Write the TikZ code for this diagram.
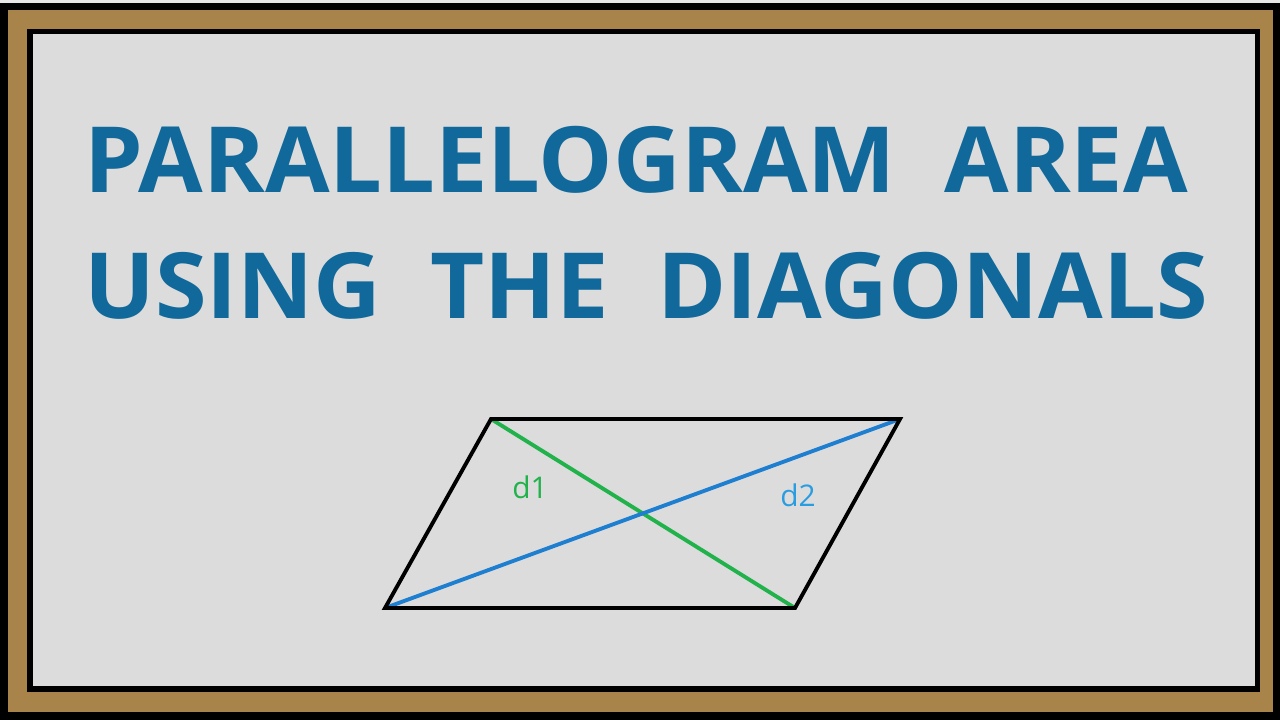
\documentclass[tikz,border=0pt]{standalone}
\usepackage{fontspec}
\setmainfont{Open Sans}
\usepackage{tikz}
\usetikzlibrary{calc}

\definecolor{framebrown}{HTML}{A8844A}
\definecolor{boardgray}{HTML}{DCDCDC}
\definecolor{titleblue}{HTML}{10699A}
\definecolor{diagone}{HTML}{22B24C}
\definecolor{diagtwo}{HTML}{1E7ED0}
\definecolor{labeltwo}{HTML}{2A9DE0}

\begin{document}
\begin{tikzpicture}[
    x=0.02cm, y=-0.02cm,
    title/.style={
      anchor=base west,
      inner sep=0pt,
      xscale=1.025,
      text=titleblue,
      font=\fontsize{52}{60}\selectfont\bfseries
    },
    side/.style={
      draw=black,
      line width=2.2pt,
      line join=miter
    },
    diag/.style={
      line width=2.2pt
    },
    dlabel/.style={
      inner sep=0pt,
      font=\fontsize{17}{20}\selectfont
    }
]

%% Frame
\fill[black] (0,0) rectangle (1280,720);
\fill[boardgray!70] (0,0) rectangle (1280,3);
\fill[framebrown] (8,10) rectangle (1273,712);
\fill[black] (27,29) rectangle (1260,692);
\fill[boardgray] (33,34) rectangle (1255,686);

%% Title
\node[title] (line1) at (84,192) {PARALLELOGRAM\ \ AREA};
\node[title] (line2) at (84,318) {USING\ \ THE\ \ DIAGONALS};

%% Parallelogram
\coordinate (A) at (491,419);
\coordinate (B) at (900,419);
\coordinate (C) at (795,608);
\coordinate (D) at (385,608);

\draw[diag, diagone] (A) -- (C);
\draw[diag, diagtwo] (D) -- (B);
\draw[side] (A) -- (B) -- (C) -- (D) -- cycle;

%% Labels
\node[dlabel, text=diagone] (d1) at (530,487) {d1};
\node[dlabel, text=labeltwo] (d2) at (798,495) {d2};

\end{tikzpicture}
\end{document}
